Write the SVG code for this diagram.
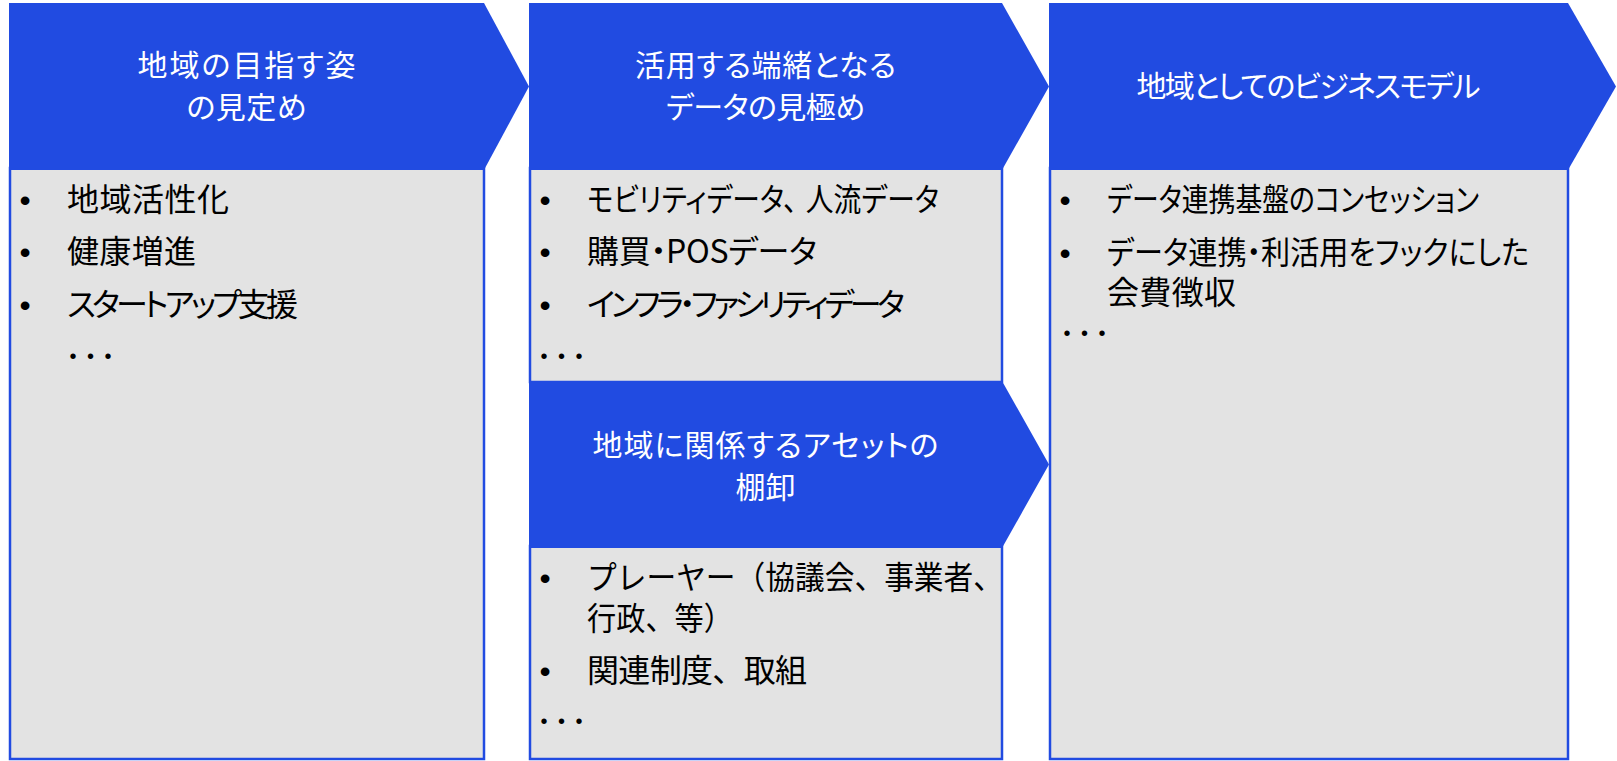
<svg xmlns="http://www.w3.org/2000/svg" width="1617" height="761" viewBox="0 0 1617 761">
<style>
.hd{fill:#214BE1}
.bd{fill:#E3E3E3;stroke:#214BE1;stroke-width:2.5}
.ht{font-family:"Noto Sans CJK JP","Noto Sans",sans-serif;font-size:30px;fill:#FFFFFF;text-anchor:middle;font-feature-settings:"palt"}
.bt{font-family:"Noto Sans CJK JP","Noto Sans",sans-serif;font-size:32px;fill:#000000;font-feature-settings:"palt"}
.bn{font-family:"Noto Sans CJK JP","Noto Sans",sans-serif;font-size:32px;fill:#000000}
.bu{font-family:"Liberation Sans",Arial,sans-serif;font-size:32px;fill:#000000;text-anchor:middle}
.dt{font-family:"Liberation Sans",Arial,sans-serif;font-size:20px;fill:#000000;letter-spacing:10.5px}
</style>
<rect width="1617" height="761" fill="#FFFFFF"/>
<g id="connectors"/>
<g id="panel1">
<rect class="bd" x="10" y="168" width="474" height="591"/>
<polygon class="hd" points="9,3 484,3 529,86.5 484,170 9,170"/>
<text class="ht" x="246.5" y="76" textLength="218" lengthAdjust="spacing">地域の目指す姿</text>
<text class="ht" x="246.5" y="118" textLength="120" lengthAdjust="spacing">の見定め</text>
<text class="bu" x="25" y="211">•</text>
<text class="bt" x="67" y="211" textLength="162" lengthAdjust="spacing">地域活性化</text>
<text class="bu" x="25" y="263">•</text>
<text class="bt" x="67" y="263" textLength="129" lengthAdjust="spacing">健康増進</text>
<text class="bu" x="25" y="316">•</text>
<text class="bt" x="67" y="316" textLength="231" lengthAdjust="spacing">スタートアップ支援</text>
<text class="dt" x="69.5" y="363">•••</text>
</g>
<g id="panel2">
<rect class="bd" x="530" y="168" width="472" height="214"/>
<polygon class="hd" points="529,3 1002,3 1049,86.5 1002,170 529,170"/>
<text class="ht" x="765.5" y="76" textLength="261" lengthAdjust="spacing">活用する端緒となる</text>
<text class="ht" x="765.5" y="118" textLength="199" lengthAdjust="spacing">データの見極め</text>
<text class="bu" x="545" y="211">•</text>
<text class="bt" x="587" y="211" textLength="352" lengthAdjust="spacingAndGlyphs">モビリティデータ、<tspan dx="10">人流データ</tspan></text>
<text class="bu" x="545" y="263">•</text>
<text class="bt" x="587" y="263" textLength="230" lengthAdjust="spacing">購買・POSデータ</text>
<text class="bu" x="545" y="316">•</text>
<text class="bt" x="587" y="316" textLength="318" lengthAdjust="spacing">インフラ・ファシリティデータ</text>
<text class="dt" x="540.5" y="363">•••</text>
</g>
<g id="panel2b">
<rect class="bd" x="530" y="546" width="472" height="213"/>
<polygon class="hd" points="529,381 1002,381 1049,464.5 1002,548 529,548"/>
<text class="ht" x="765.5" y="456" textLength="346" lengthAdjust="spacing">地域に関係するアセットの</text>
<text class="ht" x="765.5" y="498" textLength="60" lengthAdjust="spacing">棚卸</text>
<text class="bu" x="545" y="589">•</text>
<text class="bn" x="587" y="589"><tspan textLength="416" lengthAdjust="spacingAndGlyphs">プレーヤー（協議会、事業者、</tspan><tspan x="587" y="630" textLength="146" lengthAdjust="spacingAndGlyphs">行政、等）</tspan></text>
<text class="bu" x="545" y="682">•</text>
<text class="bn" x="587" y="682" textLength="220" lengthAdjust="spacing">関連制度、取組</text>
<text class="dt" x="540.5" y="728">•••</text>
</g>
<g id="panel3">
<rect class="bd" x="1050" y="168" width="518" height="591"/>
<polygon class="hd" points="1049,3 1568,3 1616,86.5 1568,170 1049,170"/>
<text class="ht" x="1308.5" y="97" textLength="344" lengthAdjust="spacing">地域としてのビジネスモデル</text>
<text class="bu" x="1065" y="211">•</text>
<text class="bt" x="1107" y="211" textLength="372" lengthAdjust="spacingAndGlyphs">データ連携基盤のコンセッション</text>
<text class="bu" x="1065" y="264">•</text>
<text class="bt" x="1107" y="264"><tspan textLength="422" lengthAdjust="spacingAndGlyphs">データ連携・利活用をフックにした</tspan><tspan x="1107" y="304" textLength="129" lengthAdjust="spacing">会費徴収</tspan></text>
<text class="dt" x="1063.5" y="340">•••</text>
</g>
</svg>
